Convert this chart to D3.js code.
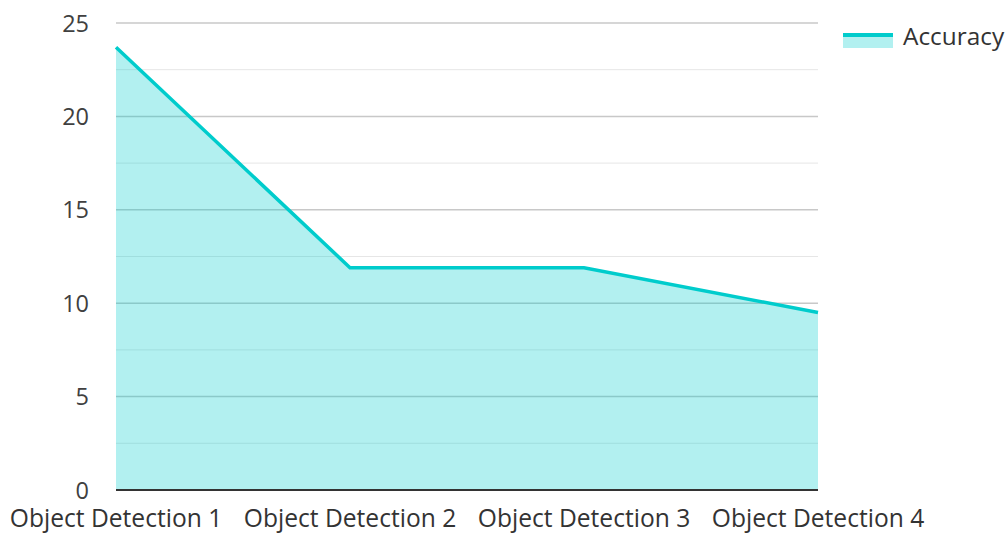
<!DOCTYPE html>
<html>
<head>
<meta charset="utf-8">
<script src="https://cdn.jsdelivr.net/npm/d3@7"></script>
<style>
  body { margin: 0; background: #fff; }
  text { font-family: "Open Sans", sans-serif; }
</style>
</head>
<body>
<svg id="chart"></svg>
<script>
// data
const categories = ["Object Detection 1", "Object Detection 2", "Object Detection 3", "Object Detection 4"]
const accuracy = [23.7, 11.9, 11.9, 9.5]
const majorTicks = [0, 5, 10, 15, 20, 25]
const minorTicks = [2.5, 7.5, 12.5, 17.5, 22.5]
const seriesName = "Accuracy"

const width = 1008
const height = 533
const margin = { left: 116, right: 190, top: 23, bottom: 43 }
const lineColor = "#00cccc"

const svg = d3.select("#chart").attr("width", width).attr("height", height)

const x = d3.scalePoint()
    .domain(categories)
    .range([margin.left, width - margin.right])

const y = d3.scaleLinear()
    .domain([0, 25])
    .range([height - margin.bottom, margin.top])

// gridlines
svg.append("g")
    .selectAll("line")
    .data(minorTicks)
    .join("line")
    .attr("x1", margin.left).attr("x2", width - margin.right)
    .attr("y1", d => y(d)).attr("y2", d => y(d))
    .attr("stroke", "#e6e6e6").attr("stroke-width", 1)

svg.append("g")
    .selectAll("line")
    .data(majorTicks.filter(d => d > 0))
    .join("line")
    .attr("x1", margin.left).attr("x2", width - margin.right)
    .attr("y1", d => y(d)).attr("y2", d => y(d))
    .attr("stroke", "#c8c8c8").attr("stroke-width", 1.5)

const pts = categories.map((c, i) => ({ c: c, v: accuracy[i] }))

// area
svg.append("path")
    .datum(pts)
    .attr("fill", lineColor)
    .attr("fill-opacity", 0.3)
    .attr("d", d3.area()
        .x(d => x(d.c))
        .y0(y(0))
        .y1(d => y(d.v)))

// line
svg.append("path")
    .datum(pts)
    .attr("fill", "none")
    .attr("stroke", lineColor)
    .attr("stroke-width", 3.5)
    .attr("d", d3.line()
        .x(d => x(d.c))
        .y(d => y(d.v)))

// baseline
svg.append("line")
    .attr("x1", margin.left).attr("x2", width - margin.right)
    .attr("y1", y(0)).attr("y2", y(0))
    .attr("stroke", "#333").attr("stroke-width", 2)

// y labels
svg.append("g")
    .selectAll("text")
    .data(majorTicks)
    .join("text")
    .attr("x", 89)
    .attr("y", d => y(d) + 8.5)
    .attr("text-anchor", "end")
    .attr("font-size", 23.5)
    .attr("fill", "#404040")
    .text(d => d)

// x labels
svg.append("g")
    .selectAll("text")
    .data(categories)
    .join("text")
    .attr("x", d => x(d))
    .attr("y", 527)
    .attr("text-anchor", "middle")
    .attr("font-size", 24.6)
    .attr("fill", "#333")
    .text(d => d)

// legend
const legend = svg.append("g").attr("transform", "translate(843, 33)")
legend.append("rect")
    .attr("width", 50).attr("height", 15)
    .attr("fill", lineColor).attr("fill-opacity", 0.3)
legend.append("rect")
    .attr("width", 50).attr("height", 4)
    .attr("fill", lineColor)
legend.append("text")
    .attr("x", 60).attr("y", 12)
    .attr("font-size", 24.4)
    .attr("fill", "#333")
    .text(seriesName)
</script>
</body>
</html>
